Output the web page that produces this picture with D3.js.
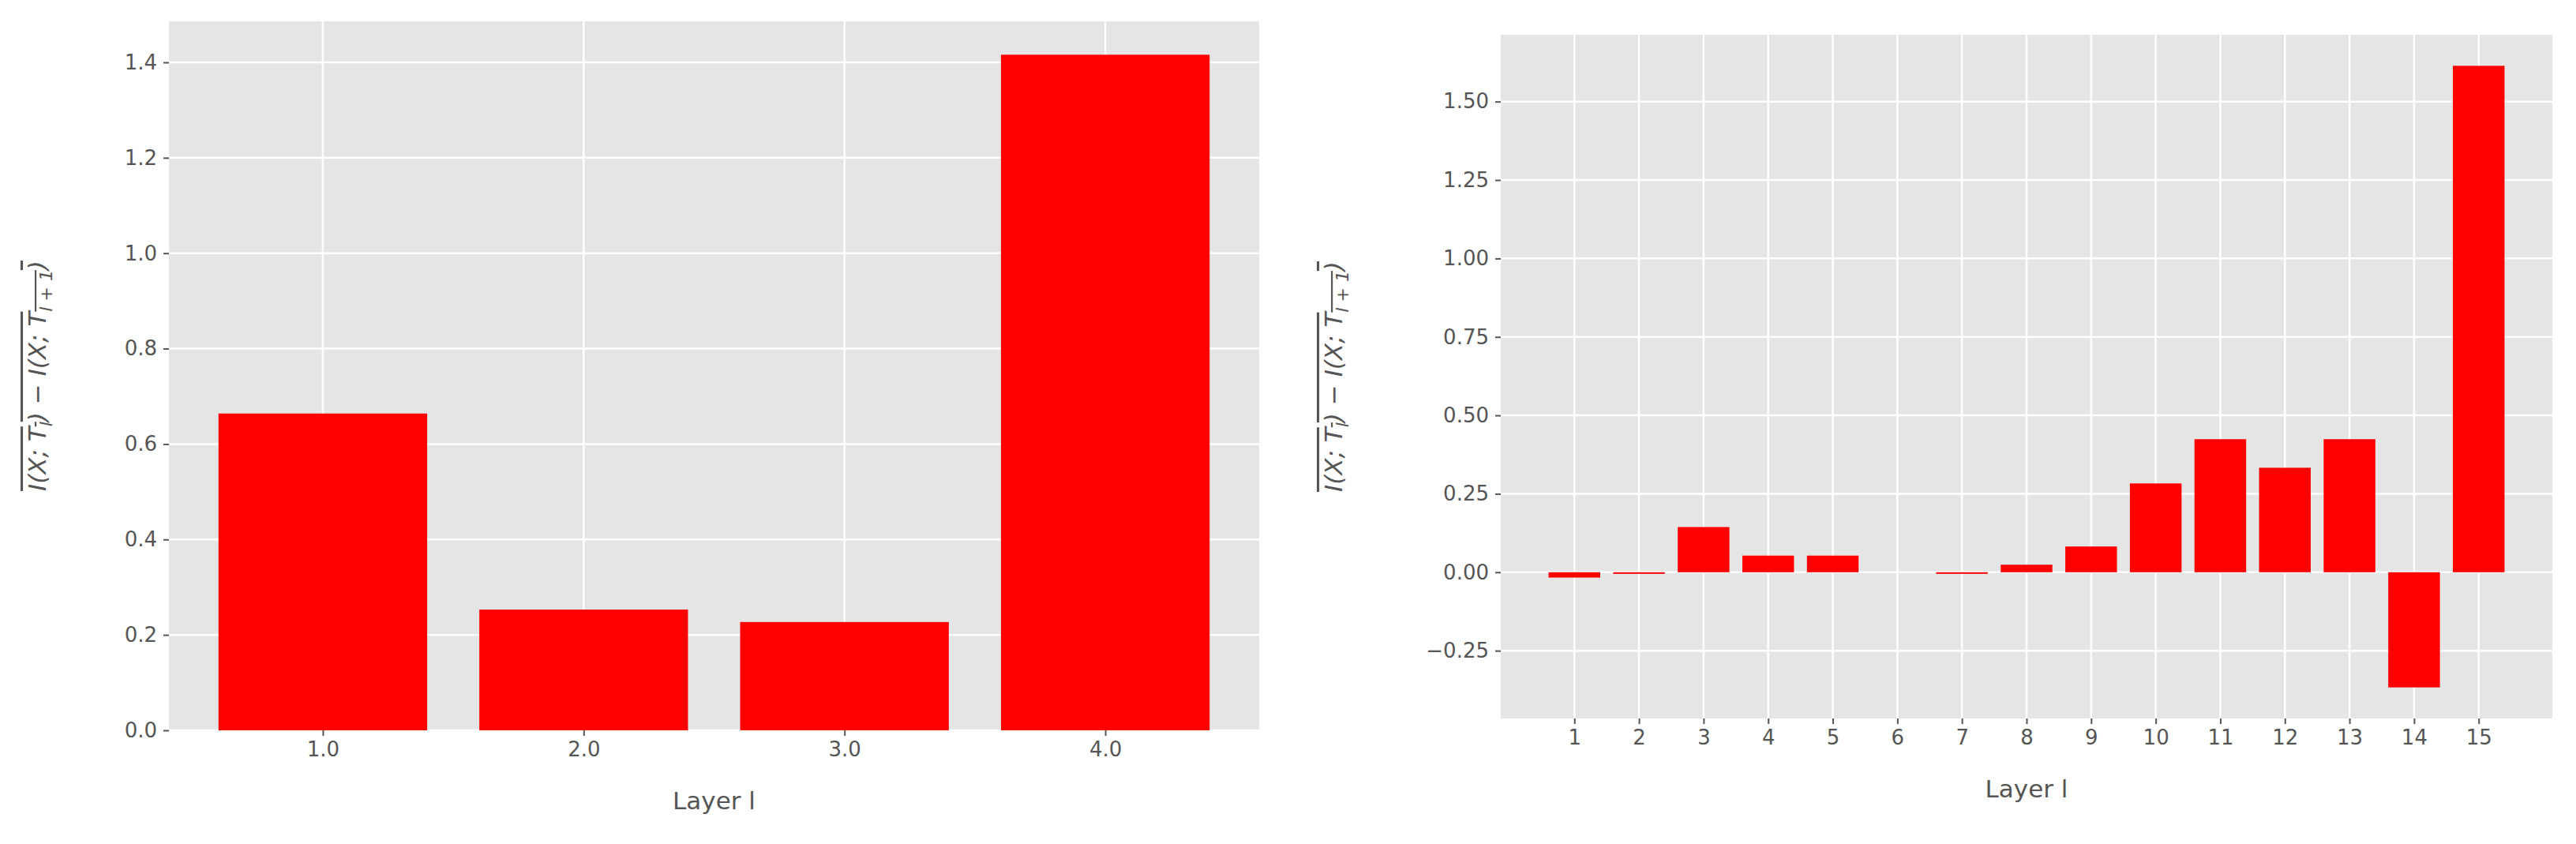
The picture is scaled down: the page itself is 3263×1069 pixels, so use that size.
<!DOCTYPE html>
<html>
<head>
<meta charset="utf-8">
<script src="https://d3js.org/d3.v7.min.js"></script>
<style>
  body { margin: 0; background: #fff; }
  text { font-family: "DejaVu Sans", sans-serif; fill: #555; }
</style>
</head>
<body>
<script>
var width = 3263, height = 1069;

// left chart
var layersA = [1, 2, 3, 4],
  valuesA = [0.664, 0.253, 0.227, 1.416],
  ticksA = [0, 0.2, 0.4, 0.6, 0.8, 1.0, 1.2, 1.4];

// right chart
var layersB = [1, 2, 3, 4, 5, 6, 7, 8, 9, 10, 11, 12, 13, 14, 15],
  valuesB = [-0.017, -0.005, 0.144, 0.053, 0.053, 0, -0.005, 0.024, 0.082, 0.283, 0.424, 0.333, 0.424, -0.367, 1.614],
  ticksB = [-0.25, 0, 0.25, 0.5, 0.75, 1.0, 1.25, 1.5];

var svg = d3.select("body")
  .append("svg")
  .attr("width", width)
  .attr("height", height);

function panel(o) {
  var x = d3.scaleLinear().domain(o.xdom).range([o.left, o.right]);
  var y = d3.scaleLinear().domain(o.ydom).range([o.bottom, o.top]);
  var g = svg.append("g");

  g.append("rect")
    .attr("x", o.left).attr("y", o.top)
    .attr("width", o.right - o.left).attr("height", o.bottom - o.top)
    .attr("fill", "#e5e5e5");

  // grid
  g.selectAll(".gy").data(o.yticks).enter().append("line")
    .attr("x1", o.left).attr("x2", o.right)
    .attr("y1", function (d) { return y(d); }).attr("y2", function (d) { return y(d); })
    .attr("stroke", "#fff").attr("stroke-width", 2.5);
  g.selectAll(".gx").data(o.layers).enter().append("line")
    .attr("y1", o.top).attr("y2", o.bottom)
    .attr("x1", function (d) { return x(d); }).attr("x2", function (d) { return x(d); })
    .attr("stroke", "#fff").attr("stroke-width", 2.5);

  // bars
  g.selectAll(".bar").data(o.values).enter().append("rect")
    .attr("x", function (d, i) { return x(o.layers[i] - 0.4); })
    .attr("width", x(0.8) - x(0))
    .attr("y", function (d) { return y(Math.max(0, d)); })
    .attr("height", function (d) { return Math.abs(y(d) - y(0)); })
    .attr("fill", "#ff0000");

  // axes
  var xAxis = d3.axisBottom(x).tickValues(o.layers).tickSize(7).tickPadding(8);
  var ax = g.append("g").attr("transform", "translate(0," + o.bottom + ")").call(xAxis);
  var yAxis = d3.axisLeft(y).tickValues(o.yticks).tickSize(7).tickPadding(8)
    .tickFormat(function (d) { return d3.format(o.fmt)(d).replace("-", "\u2212"); });
  var ay = g.append("g").attr("transform", "translate(" + o.left + ",0)").call(yAxis);
  [ax, ay].forEach(function (a) {
    a.select(".domain").remove();
    a.selectAll("line").attr("stroke", "#555").attr("stroke-width", 2);
    a.selectAll("text").style("font-size", "26px").attr("fill", "#555");
  });

  g.append("text")
    .attr("x", (o.left + o.right) / 2)
    .attr("y", o.bottom + 100)
    .attr("text-anchor", "middle")
    .style("font-size", "31px")
    .text("Layer l");

  var lab = g.append("text")
    .attr("transform", "translate(" + o.labelX + "," + ((o.top + o.bottom) / 2) + ") rotate(-90)")
    .attr("text-anchor", "middle")
    .style("font-size", "31px")
    .style("font-style", "italic")
    .style("text-decoration", "overline");
  lab.append("tspan").text("I(X; T");
  lab.append("tspan").attr("dy", 8).style("font-size", "22px").text("l");
  lab.append("tspan").attr("dy", -8).text(") \u2212 I(X; T");
  lab.append("tspan").attr("dy", 8).style("font-size", "22px").text("l + 1");
  lab.append("tspan").attr("dy", -8).text(")");
}

panel({
  layers: layersA, values: valuesA, yticks: ticksA, fmt: ".1f",
  xdom: [0.41, 4.59], ydom: [0, 1.486],
  left: 214, right: 1595, top: 27, bottom: 925, labelX: 58
});

panel({
  layers: layersB, values: valuesB, yticks: ticksB, fmt: ".2f",
  xdom: [-0.14, 16.14], ydom: [-0.466, 1.713],
  left: 1901, right: 3233, top: 44, bottom: 910, labelX: 1700
});
</script>
</body>
</html>
